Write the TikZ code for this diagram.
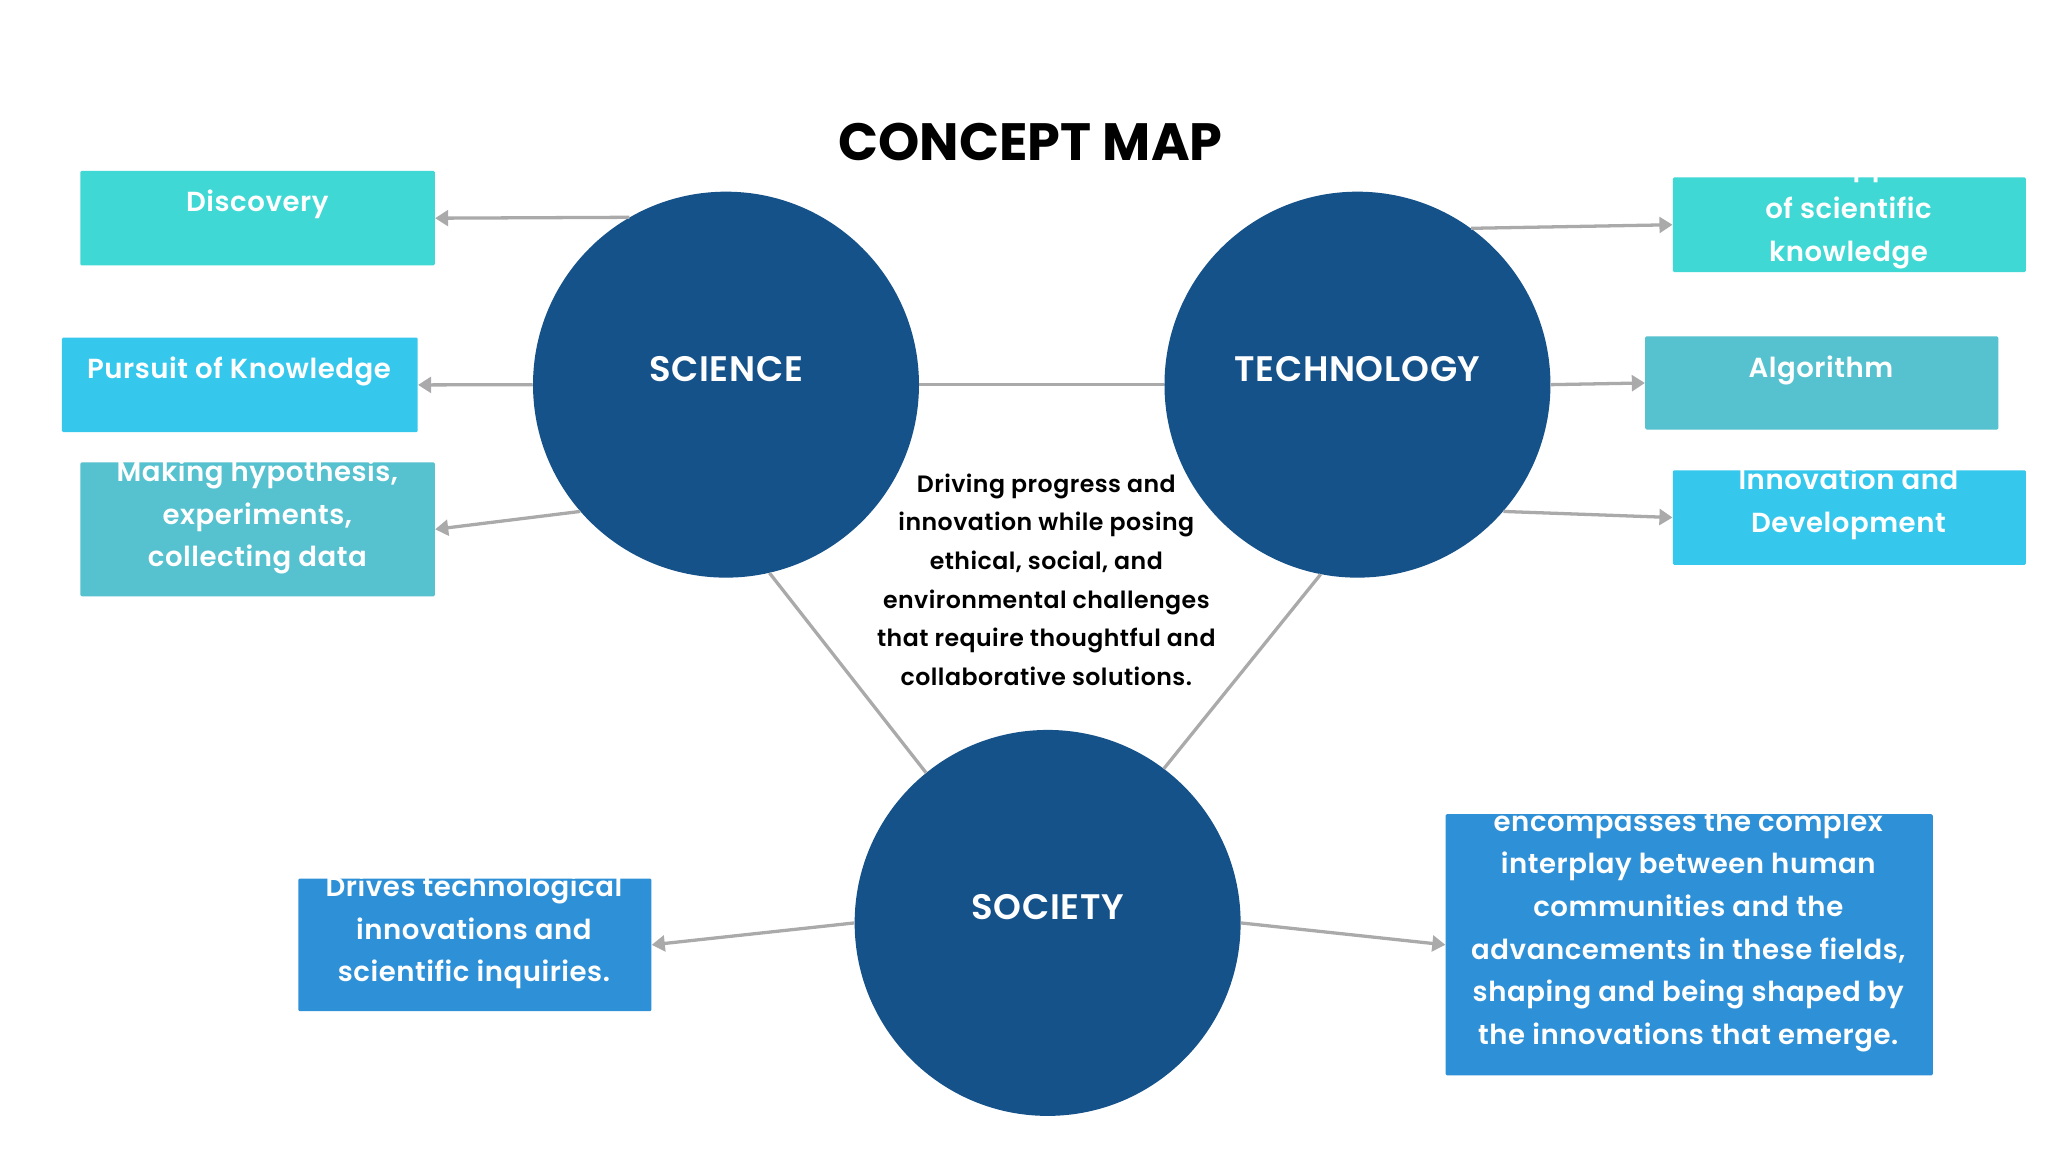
\documentclass[tikz,border=0pt]{standalone}
\usepackage{fontspec}
\setmainfont{Poppins}[BoldFont={* SemiBold},LetterSpace=2]
\newfontfamily\titlefont{Poppins}[BoldFont={* Bold}]
\usetikzlibrary{arrows.meta}
\definecolor{circ}{HTML}{16528A}
\definecolor{turq}{HTML}{3FD8D4}
\definecolor{lblue}{HTML}{36C8EC}
\definecolor{teal2}{HTML}{56C1CF}
\definecolor{mblue}{HTML}{2E90D6}
\definecolor{conn}{HTML}{AAAAAA}
\tikzset{
 bigc/.style={circle,fill=circ,minimum size=294pt,inner sep=0pt},
 clabel/.style={text=white,font=\fontsize{27}{30}\selectfont\bfseries},
 boxtext/.style={text=white,align=center,font=\fontsize{21}{32.5}\selectfont\bfseries},
 arr/.style={draw=conn,line width=2.5pt,-{Triangle[length=10pt,width=12pt]}},
 ln/.style={draw=conn,line width=2.5pt},
}
\newcommand{\mybox}[6]{% name, x1,y1,x2,y2,color
 \node[fill=#6,inner sep=0pt,minimum width=#4pt-#2pt,minimum height=#5pt-#3pt,anchor=north west,rounded corners=1pt] (#1) at (#2,#3) {};}
\begin{document}
\begin{tikzpicture}[x=1pt,y=-1pt]
\useasboundingbox[fill=white] (0,0) rectangle (1560,878);
\node[font=\titlefont\fontsize{40}{44}\selectfont\bfseries] (title) at (785,108) {CONCEPT MAP};
\node[bigc] (sci) at (553,293) {};
\node[bigc] (tech) at (1034,293) {};
\node[bigc] (soc) at (798,703) {};
\node[clabel] (scil) at (553,281) {SCIENCE};
\node[clabel] (techl) at (1034,281) {TECHNOLOGY};
\node[clabel] (socl) at (798,691) {SOCIETY};
\mybox{disc}{61}{130}{331}{202}{turq}
\mybox{purs}{47}{257}{318}{329}{lblue}
\mybox{mak}{61}{352}{331}{454}{teal2}
\mybox{prac}{1274}{135}{1543}{207}{turq}
\mybox{algo}{1253}{256}{1522}{327}{teal2}
\mybox{innov}{1274}{358}{1543}{430}{lblue}
\mybox{drv}{227}{669}{496}{770}{mblue}
\mybox{enc}{1101}{620}{1472}{819}{mblue}
\node[boxtext] (disct) at (196,156) {Discovery};
\node[boxtext] (purst) at (182,283) {Pursuit of Knowledge};
\begin{scope}\clip (61,352) rectangle (331,454);
\node[boxtext] (makt) at (196,394) {Making hypothesis,\\experiments,\\collecting data};\end{scope}
\begin{scope}\clip (1274,135) rectangle (1543,207);
\node[boxtext] (pract) at (1408,161) {Practical application\\of scientific\\knowledge};\end{scope}
\node[boxtext] (algot) at (1387,282) {Algorithm};
\begin{scope}\clip (1274,358) rectangle (1543,430);
\node[boxtext] (innovt) at (1408,384) {Innovation and\\Development};\end{scope}
\begin{scope}\clip (227,669) rectangle (496,770);
\node[boxtext] (drvt) at (361,710) {Drives technological\\innovations and\\scientific inquiries.};\end{scope}
\begin{scope}\clip (1101,620) rectangle (1472,819);
\node[boxtext] (enct) at (1286,709.5) {encompasses the complex\\interplay between human\\communities and the\\advancements in these fields,\\shaping and being shaped by\\the innovations that emerge.};\end{scope}
\node[align=center,font=\fontsize{18}{29.4}\selectfont\bfseries] (mid) at (797,441.5) {Driving progress and\\innovation while posing\\ethical, social, and\\environmental challenges\\that require thoughtful and\\collaborative solutions.};
\draw[arr] (sci.120) -- (disc.east);
\draw[arr] (sci.west) -- (purs.east);
\draw[arr] (sci.221.7) -- (mak.east);
\draw[arr] (tech.54.8) -- (prac.west);
\draw[arr] (tech.east) -- (algo.west);
\draw[arr] (tech.-41) -- (innov.west);
\draw[arr] (soc.west) -- (drv.east);
\draw[arr] (soc.east) -- (enc.west);
\draw[ln] (sci.east) -- (tech.west);
\draw[ln] (sci.-77.4) -- (soc.129.4);
\draw[ln] (tech.-101) -- (soc.53.2);
\end{tikzpicture}
\end{document}
